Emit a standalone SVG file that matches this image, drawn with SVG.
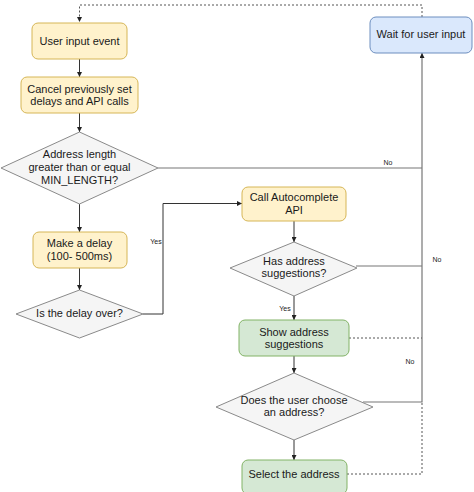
<svg xmlns="http://www.w3.org/2000/svg" width="474" height="492" viewBox="0 0 474 492">
<style>
.t{font-family:"Liberation Sans",Arial,sans-serif;font-size:11px;fill:#1a1a1a;text-anchor:middle;dominant-baseline:central}
.l{font-family:"Liberation Sans",Arial,sans-serif;font-size:7px;fill:#222;text-anchor:middle;dominant-baseline:central}
.y{fill:#fff2cc;stroke:#d6b656;stroke-width:1}
.g{fill:#d5e8d4;stroke:#82b366;stroke-width:1}
.b{fill:#dae8fc;stroke:#6c8ebf;stroke-width:1}
.d{fill:#f5f5f5;stroke:#8a8a8a;stroke-width:1}
.c{fill:none;stroke:#333;stroke-width:1}
.cg{fill:none;stroke:#777;stroke-width:1.2}
.dot{fill:none;stroke:#555;stroke-width:1;stroke-dasharray:2,2}
</style>
<defs>
<marker id="a" viewBox="0 0 10 10" refX="10" refY="5" markerWidth="5" markerHeight="5" orient="auto" markerUnits="userSpaceOnUse">
<path d="M0,0 L10,5 L0,10 Z" fill="#222"/>
</marker>
</defs>
<g id="connectors">
<path class="dot" d="M422,17 V5 H79.5 V22" marker-end="url(#a)"/>
<path class="c" d="M79.5,59 V77" marker-end="url(#a)"/>
<path class="c" d="M79.5,113 V132" marker-end="url(#a)"/>
<path class="c" d="M79.5,204 V232" marker-end="url(#a)"/>
<path class="c" d="M79.5,268 V290" marker-end="url(#a)"/>
<path class="c" d="M143,314 H163 V203.5 H242" marker-end="url(#a)"/>
<path class="c" d="M294,221 V242" marker-end="url(#a)"/>
<path class="c" d="M294,296 V320" marker-end="url(#a)"/>
<path class="c" d="M294,356 V373" marker-end="url(#a)"/>
<path class="c" d="M294,440 V460" marker-end="url(#a)"/>
<path class="cg" d="M158,168 H422"/>
<path class="cg" d="M356,266 H422"/>
<path class="cg" d="M363,402 H422 V53" marker-end="url(#a)"/>
<path class="dot" d="M349,338 H422"/>
<path class="dot" d="M347,474 H422 V402"/>
<text class="l" x="388" y="162">No</text>
<text class="l" x="156" y="241">Yes</text>
<text class="l" x="437" y="259">No</text>
<text class="l" x="285" y="308">Yes</text>
<text class="l" x="410" y="361">No</text>
</g>
<g id="wait">
<rect class="b" x="370" y="17" width="102" height="36" rx="6"/>
<text class="t" x="421" y="34">Wait for user input</text>
</g>
<g id="userInput">
<rect class="y" x="32" y="23" width="95" height="36" rx="6"/>
<text class="t" x="79.5" y="41">User input event</text>
</g>
<g id="cancel">
<rect class="y" x="21" y="77" width="117" height="36" rx="6"/>
<text class="t" x="79.5" y="89">Cancel previously set</text>
<text class="t" x="79.5" y="101">delays and API calls</text>
</g>
<g id="lengthCheck">
<path class="d" d="M79.5,132 L158,168 L79.5,204 L1,168 Z"/>
<text class="t" x="79.5" y="154">Address length</text>
<text class="t" x="79.5" y="167">greater than or equal</text>
<text class="t" x="79.5" y="180">MIN_LENGTH?</text>
</g>
<g id="delay">
<rect class="y" x="33" y="232" width="94" height="36" rx="6"/>
<text class="t" x="79.5" y="243">Make a delay</text>
<text class="t" x="79.5" y="256">(100- 500ms)</text>
</g>
<g id="delayOver">
<path class="d" d="M79.5,290 L143,314 L79.5,338 L16,314 Z"/>
<text class="t" x="79.5" y="313">Is the delay over?</text>
</g>
<g id="callApi">
<rect class="y" x="242" y="187" width="104" height="34" rx="6"/>
<text class="t" x="294" y="197">Call Autocomplete</text>
<text class="t" x="294" y="210">API</text>
</g>
<g id="hasSuggestions">
<path class="d" d="M294,242 L357,268 L294,296 L230,268 Z"/>
<text class="t" x="294" y="261">Has address</text>
<text class="t" x="294" y="273">suggestions?</text>
</g>
<g id="showSuggestions">
<rect class="g" x="239" y="320" width="110" height="36" rx="6"/>
<text class="t" x="294" y="332">Show address</text>
<text class="t" x="294" y="344">suggestions</text>
</g>
<g id="userChoose">
<path class="d" d="M294,373 L373,407 L294,440 L216,407 Z"/>
<text class="t" x="294" y="400">Does the user choose</text>
<text class="t" x="294" y="412">an address?</text>
</g>
<g id="selectAddress">
<rect class="g" x="242" y="460" width="105" height="34" rx="6"/>
<text class="t" x="294" y="474">Select the address</text>
</g>
</svg>
